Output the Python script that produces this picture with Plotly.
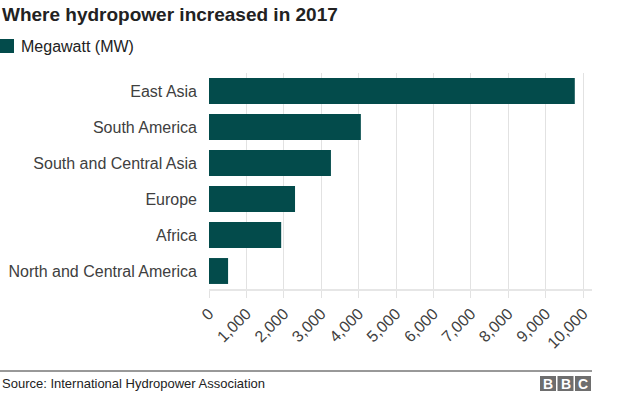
import plotly.graph_objects as go

categories = ["East Asia", "South America", "South and Central Asia", "Europe", "Africa", "North and Central America"]
values = [9780, 4060, 3260, 2300, 1930, 510]
tick_vals = [0, 1000, 2000, 3000, 4000, 5000, 6000, 7000, 8000, 9000, 10000]
tick_text = ["0", "1,000", "2,000", "3,000", "4,000", "5,000", "6,000", "7,000", "8,000", "9,000", "10,000"]
series_name = "Megawatt (MW)"
title_text = "Where hydropower increased in 2017"
source_text = "Source: International Hydropower Association"

W, H = 624, 395
L, R, T, B = 209, 32, 73, 106
PW, PH = W - L - R, H - T - B
BAR = "#034b4b"
FONT = "Liberation Sans, Arial, sans-serif"


def px_x(x):
    return (x - L) / PW


def px_y(y):
    return (H - B - y) / PH


fig = go.Figure()
fig.add_trace(go.Bar(
    y=categories, x=values, orientation="h", name=series_name,
    marker=dict(color=BAR, line=dict(width=0)), showlegend=False,
    hoverinfo="x+y",
))

fig.update_layout(
    width=W, height=H,
    margin=dict(l=L, r=R, t=T, b=B, pad=0, autoexpand=False),
    paper_bgcolor="white", plot_bgcolor="white",
    font=dict(family=FONT, size=16, color="#404040"),
    bargap=0.28,
    xaxis=dict(range=[0, 10240], tickvals=tick_vals, ticktext=tick_text, tickangle=-45,
               showgrid=True, gridcolor="#e2e2e2", gridwidth=1, zeroline=False,
               showline=True, linecolor="#e6e6e6", linewidth=2,
               ticks="outside", ticklen=7, tickcolor="#e2e2e2", automargin=False,
               tickfont=dict(family=FONT, size=16, color="#404040"), fixedrange=True),
    yaxis=dict(autorange="reversed", showgrid=False, zeroline=False, showline=False,
               ticks="", ticklabelstandoff=11, automargin=False,
               tickfont=dict(family=FONT, size=16, color="#404040"), fixedrange=True),
)

# title
fig.add_annotation(text="<b>" + title_text + "</b>", xref="paper", yref="paper",
                   x=px_x(0), y=px_y(15), xanchor="left", yanchor="middle", showarrow=False,
                   font=dict(family=FONT, size=19, color="#222222"))

# legend (key)
fig.add_shape(type="rect", xref="paper", yref="paper",
              x0=px_x(0), x1=px_x(14), y0=px_y(53), y1=px_y(39),
              fillcolor=BAR, line=dict(width=0))
fig.add_annotation(text=series_name, xref="paper", yref="paper",
                   x=px_x(19), y=px_y(46), xanchor="left", yanchor="middle", showarrow=False,
                   font=dict(family=FONT, size=16, color="#222222"))

# footer rule and source
fig.add_shape(type="line", xref="paper", yref="paper", x0=px_x(0), x1=px_x(592),
              y0=px_y(371), y1=px_y(371), line=dict(color="#333333", width=1))
fig.add_annotation(text=source_text, xref="paper", yref="paper",
                   x=px_x(0), y=px_y(383), xanchor="left", yanchor="middle", showarrow=False,
                   font=dict(family=FONT, size=13, color="#222222"))

# BBC logo
for i, letter in enumerate(["B", "B", "C"]):
    x0 = 540 + i * 17.5
    fig.add_shape(type="rect", xref="paper", yref="paper",
                  x0=px_x(x0), x1=px_x(x0 + 16), y0=px_y(391), y1=px_y(376),
                  fillcolor="#6e6e6e", line=dict(width=0))
    fig.add_annotation(text="<b>" + letter + "</b>", xref="paper", yref="paper",
                       x=px_x(x0 + 8), y=px_y(383.5), xanchor="center", yanchor="middle",
                       showarrow=False, font=dict(family=FONT, size=14, color="white"))

fig.write_html("out.html", post_script="document.body.style.margin='0';",
               config={"displayModeBar": False})
